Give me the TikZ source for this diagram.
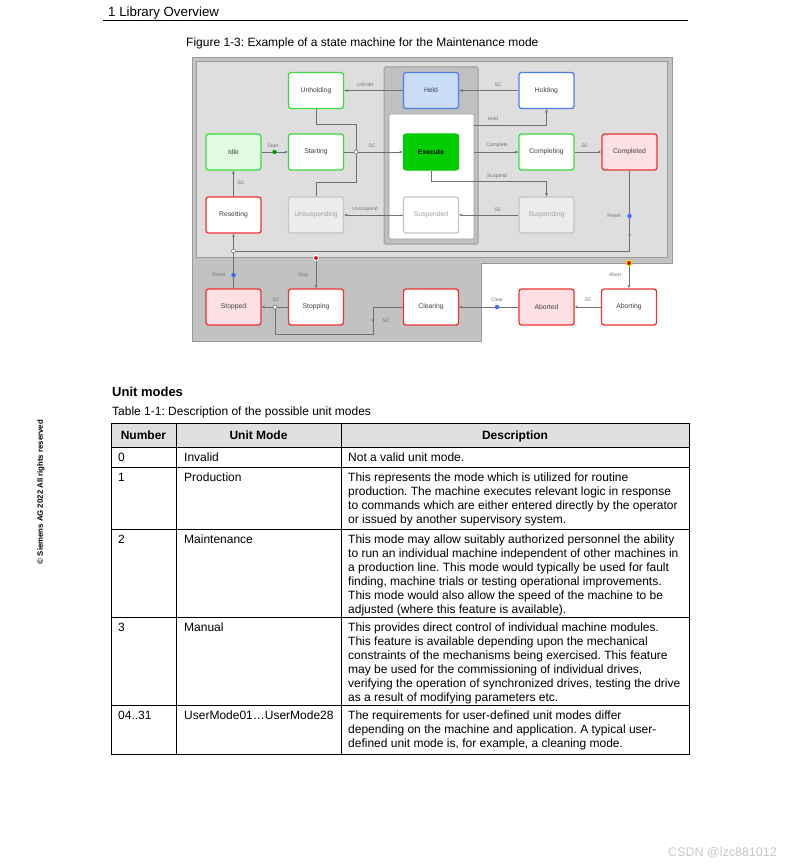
\documentclass[tikz,border=0pt]{standalone}
\usepackage{fontspec}
\setmainfont{Liberation Sans}
\usetikzlibrary{arrows.meta,decorations.markings}
\frenchspacing
\definecolor{stgreen}{HTML}{3DDC3D}
\definecolor{stgreenfill}{HTML}{E3FBE3}
\definecolor{stblue}{HTML}{4D7CF0}
\definecolor{stbluefill}{HTML}{C9DDF9}
\definecolor{stred}{HTML}{EE3333}
\definecolor{stpink}{HTML}{FDE0E5}
\definecolor{execgreen}{HTML}{00CC00}
\definecolor{grayborder}{HTML}{C4C4C4}
\definecolor{grayfill}{HTML}{ECECEC}
\definecolor{graytext}{HTML}{A0A0A0}
\definecolor{lgray}{HTML}{707070}
\definecolor{outergray}{HTML}{C2C2C2}
\definecolor{innergray}{HTML}{DEDEDE}
\definecolor{regionborder}{HTML}{9A9A9A}
\definecolor{groupgray}{HTML}{C0C0C0}
\definecolor{dotblue}{HTML}{3F6FF0}
\definecolor{dotred}{HTML}{DD0000}
\definecolor{dotyellow}{HTML}{F2E000}
\definecolor{hdrgray}{HTML}{E0E0E0}
\definecolor{wmgray}{HTML}{C8C8C8}
\tikzset{
  st/.style={draw, rounded corners=2.5pt, minimum width=55pt, minimum height=36pt,
    line width=1.3pt, inner sep=0pt, font=\fontsize{6.8}{8}\selectfont, text=black!75},
  gbox/.style={st, draw=stgreen, fill=white},
  gfbox/.style={st, draw=stgreen, fill=stgreenfill},
  bbox/.style={st, draw=stblue, fill=white},
  bfbox/.style={st, draw=stblue, fill=stbluefill},
  rbox/.style={st, draw=stred, fill=white},
  rfbox/.style={st, draw=stred, fill=stpink},
  xbox/.style={st, draw=execgreen, fill=execgreen, text=black, font=\fontsize{6.8}{8}\selectfont\bfseries},
  dbox/.style={st, draw=grayborder, fill=grayfill, text=graytext},
  wbox/.style={st, draw=grayborder, fill=white, text=graytext},
  ln/.style={color=lgray, line width=0.8pt},
  conn/.style={ln, -{Stealth[length=3.5pt,width=2.8pt]}},
  midarr/.style={postaction={decorate}, decoration={markings,
    mark=at position #1 with {\arrow{Stealth[length=3pt,width=2.5pt]}}}},
  lbl/.style={font=\fontsize{5}{6}\selectfont, text=black!55, inner sep=0.5pt},
  jct/.style={circle, draw=lgray, fill=white, line width=0.6pt, minimum size=4pt, inner sep=0pt},
  bdot/.style={circle, fill=dotblue, minimum size=4.5pt, inner sep=0pt},
  gdot/.style={circle, fill=execgreen!80!black, minimum size=4.5pt, inner sep=0pt},
  rdot/.style={circle, draw=white, line width=1pt, fill=dotred, minimum size=5pt, inner sep=0pt},
  ydot/.style={circle, draw=dotyellow, line width=1.2pt, fill=dotred, minimum size=5.5pt, inner sep=0pt},
  cell/.style={anchor=north west, inner sep=0pt, align=left, font=\fontsize{12}{14}\selectfont},
  hcell/.style={anchor=base, inner sep=0pt, font=\fontsize{12}{14}\selectfont\bfseries},
}
\begin{document}
\begin{tikzpicture}[x=1pt,y=-1pt]
\useasboundingbox[fill=white] (0,0) rectangle (793,864);

% page header
\node[anchor=base west, inner sep=0pt, font=\fontsize{13.3}{15}\selectfont] (hdr) at (108,17) {1 Library Overview};
\draw[line width=0.9pt] (103,20.5) -- (688,20.5);
\node[anchor=base west, inner sep=0pt, font=\fontsize{12}{14}\selectfont] (cap) at (186,47) {Figure 1-3: Example of a state machine for the Maintenance mode};

% regions
\draw[fill=outergray, draw=regionborder, line width=1pt] (192,58) -- (672,58) -- (672,263) -- (481,263) -- (481,341) -- (192,341) -- cycle;
\draw[fill=innergray, draw=regionborder, line width=1pt] (196,62) rectangle (667,257);
\draw[fill=groupgray, draw=regionborder, line width=1pt, rounded corners=1.5pt] (384,67) rectangle (478,244);
\draw[fill=white, draw=regionborder, line width=0.8pt, rounded corners=1pt] (389,114) rectangle (474,239);

% states
\node[bfbox] (held) at (431,90.5) {Held};
\node[xbox] (execute) at (431,152) {Execute};
\node[wbox] (suspended) at (431,215) {Suspended};
\node[gbox] (unholding) at (316,90.5) {Unholding};
\node[gfbox] (idle) at (233.5,152) {Idle};
\node[gbox] (starting) at (316,152) {Starting};
\node[rbox] (resetting) at (233.5,215) {Resetting};
\node[dbox] (unsuspending) at (316,215) {Unsuspending};
\node[bbox] (holding) at (546.5,90.5) {Holding};
\node[gbox] (completing) at (546.5,152) {Completing};
\node[rfbox] (completed) at (629.5,152) {Completed};
\node[dbox] (suspending) at (546.5,215) {Suspending};
\node[rfbox] (stopped) at (233.5,307) {Stopped};
\node[rbox] (stopping) at (316,307) {Stopping};
\node[rbox] (clearing) at (431,307) {Clearing};
\node[rfbox] (aborted) at (546.5,307) {Aborted};
\node[rbox] (aborting) at (629,307) {Aborting};

% junctions and named points
\node[jct] (j1) at (356,152) {};
\node[jct] (j2) at (233.5,251) {};
\node[jct] (j3) at (275,307) {};
\coordinate (holdstart) at (474,125);
\coordinate (compstart) at (474,152);

% transitions
\draw[conn] (held.west) -- (unholding.east);
\draw[conn] (holding.west) -- (held.east);
\draw[conn] (holdstart) -| (holding.south);
\draw[conn] (idle.east) -- (starting.west);
\draw[ln] (starting.east) -- (j1.west);
\draw[conn] (j1.east) -- (execute.west);
\draw[ln] (unholding.south) -- (316,124) -| (j1.north);
\draw[ln] (unsuspending.north) -- (316,182) -| (j1.south);
\draw[conn] (compstart) -- (completing.west);
\draw[conn] (completing.east) -- (completed.west);
\draw[conn] (execute.south) -- (431,181) -| (suspending.north);
\draw[conn] (suspending.west) -- (suspended.east);
\draw[conn] (suspended.west) -- (unsuspending.east);
\draw[conn] (resetting.north) -- (idle.south);
\draw[ln, midarr=0.14] (completed.south) |- (j2.east);
\draw[conn] (j2.north) -- (resetting.south);
\draw[ln] (stopped.north) -- (j2.south);
\node[rdot] (stopdot) at (316,258) {};
\draw[conn] (stopdot) -- (stopping.north);
\draw[ln] (stopping.west) -- (j3.east);
\draw[conn] (j3.west) -- (stopped.east);
\draw[ln, midarr=0.25] (clearing.west) -- (373,307) -- (373,334) -| (j3.south);
\draw[conn] (aborted.west) -- (clearing.east);
\draw[conn] (aborting.west) -- (aborted.east);
\node[ydot] (abortdot) at (629,263) {};
\draw[conn] (abortdot) -- (aborting.north);

% event dots
\node[gdot] (startdot) at (274.5,152) {};
\node[bdot] (resetdot1) at (629.5,216) {};
\node[bdot] (resetdot2) at (233.5,275) {};
\node[bdot] (cleardot) at (497,307) {};

% labels
\node[lbl] (l1) at (365,85) {Unhold};
\node[lbl] (l2) at (498,85) {SC};
\node[lbl] (l3) at (493,118.5) {Hold};
\node[lbl] (l4) at (273,146) {Start};
\node[lbl] (l5) at (372,145.5) {SC};
\node[lbl] (l6) at (497,145.5) {Complete};
\node[lbl] (l7) at (585,145.5) {SC};
\node[lbl] (l8) at (497,176) {Suspend};
\node[lbl] (l9) at (498,209.5) {SC};
\node[lbl] (l10) at (365,209.5) {Unsuspend};
\node[lbl] (l11) at (241,183) {SC};
\node[lbl] (l12) at (614,216) {Reset};
\node[lbl] (l13) at (219,275) {Reset};
\node[lbl] (l14) at (303,275) {Stop};
\node[lbl] (l15) at (276,300) {SC};
\node[lbl] (l16) at (386,321) {SC};
\node[lbl] (l17) at (497,300) {Clear};
\node[lbl] (l18) at (588,300) {SC};
\node[lbl] (l19) at (615,275) {Abort};

% side copyright
\node[rotate=90, inner sep=0pt, font=\fontsize{7.8}{9}\selectfont\bfseries] (copy) at (41,492) {© Siemens AG 2022 All rights reserved};

% section heading
\node[anchor=base west, inner sep=0pt, font=\fontsize{13}{15}\selectfont\bfseries] (sec) at (112,396) {Unit modes};
\node[anchor=base west, inner sep=0pt, font=\fontsize{12}{14}\selectfont] (tcap) at (112,415) {Table 1-1: Description of the possible unit modes};

% table
\fill[hdrgray] (111,423) rectangle (689,447);
\draw[line width=0.9pt] (111,423) rectangle (689,754);
\foreach \yy in {447,467,529,617,705} \draw[line width=0.9pt] (111,\yy) -- (689,\yy);
\draw[line width=0.9pt] (176,423) -- (176,754);
\draw[line width=0.9pt] (341,423) -- (341,754);

\node[hcell] (h1) at (143.5,439) {Number};
\node[hcell] (h2) at (258.5,439) {Unit Mode};
\node[hcell] (h3) at (515,439) {Description};

\node[cell] (c01) at (118,451.2) {\strut 0};
\node[cell] (c02) at (184,451.2) {\strut Invalid};
\node[cell] (c03) at (348,451.2) {\strut Not a valid unit mode.};

\node[cell] (c11) at (118,471.2) {\strut 1};
\node[cell] (c12) at (184,471.2) {\strut Production};
\node[cell] (c13) at (348,471.2) {\strut This represents the mode which is utilized for routine\\production. The machine executes relevant logic in response\\to commands which are either entered directly by the operator\\or issued by another supervisory system.};

\node[cell] (c21) at (118,533.2) {\strut 2};
\node[cell] (c22) at (184,533.2) {\strut Maintenance};
\node[cell] (c23) at (348,533.2) {\strut This mode may allow suitably authorized personnel the ability\\to run an individual machine independent of other machines in\\a production line. This mode would typically be used for fault\\finding, machine trials or testing operational improvements.\\This mode would also allow the speed of the machine to be\\adjusted (where this feature is available).};

\node[cell] (c31) at (118,621.2) {\strut 3};
\node[cell] (c32) at (184,621.2) {\strut Manual};
\node[cell] (c33) at (348,621.2) {\strut This provides direct control of individual machine modules.\\This feature is available depending upon the mechanical\\constraints of the mechanisms being exercised. This feature\\may be used for the commissioning of individual drives,\\verifying the operation of synchronized drives, testing the drive\\as a result of modifying parameters etc.};

\node[cell] (c41) at (118,709.2) {\strut 04..31};
\node[cell] (c42) at (184,709.2) {\strut UserMode01…UserMode28};
\node[cell] (c43) at (348,709.2) {\strut The requirements for user-defined unit modes differ\\depending on the machine and application. A typical user-\\defined unit mode is, for example, a cleaning mode.};

% watermark
\node[anchor=base east, inner sep=0pt, text=wmgray, font=\fontsize{12.5}{14}\selectfont] (wm) at (777,856) {CSDN @lzc881012};
\end{tikzpicture}
\end{document}
